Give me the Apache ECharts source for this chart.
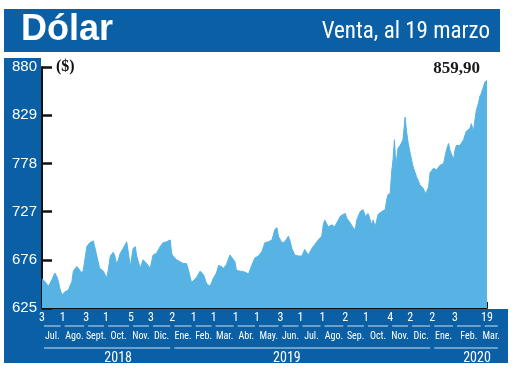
<!DOCTYPE html>
<html><head><meta charset="utf-8">
<script src="https://cdn.jsdelivr.net/npm/echarts@6/dist/echarts.min.js"></script>
<style>html,body{margin:0;padding:0;background:#fff}#c{width:520px;height:390px}</style>
</head><body><div id="c"></div>
<script>
const titulo = 'Dólar';
const subtitulo = 'Venta, al 19 marzo';
const unidad = '($)';
const ultimoTexto = '859,90';
// días transcurridos desde el 3 de julio de 2018
const dias = [0,4,9,14,18,21,23,25,28,32,37,42,44,49,53,56,58,63,67,72,74,77,81,86,91,93,96,100,102,105,110,114,119,121,124,128,131,133,138,142,147,152,156,161,166,170,175,180,182,184,189,194,198,203,205,208,210,212,217,222,224,227,231,236,241,245,248,252,255,259,264,266,271,273,278,285,290,295,299,304,309,313,318,323,327,330,332,337,341,346,348,351,355,360,365,369,374,379,383,388,393,395,397,402,407,411,414,419,423,426,428,433,437,440,442,447,451,454,458,461,463,465,468,472,477,482,484,486,489,491,493,495,497,500,503,505,507,510,512,514,517,521,526,531,535,539,543,545,550,554,559,564,566,568,571,573,578,580,582,587,592,596,601,603,606,608,610,613,615,617,620,622,625];
const valores = [656,653,648,655,662,658,653,646,639,642,644,653,664,669,665,662,665,690,694,696,690,680,667,664,657,665,680,684,681,671,683,688,695,685,669,688,690,680,667,676,672,667,681,683,690,694,695,697,683,680,676,674,672,672,667,658,652,650,657,664,665,660,651,648,657,662,670,669,667,671,681,683,674,665,664,663,661,671,678,680,685,694,695,697,708,710,701,694,695,701,697,688,681,680,680,687,681,688,692,697,701,713,718,711,713,711,715,722,724,725,720,715,710,708,718,727,729,722,725,718,713,718,711,724,727,729,739,745,746,768,782,803,775,794,797,796,803,827,812,801,789,775,764,755,752,746,753,768,773,771,776,778,785,792,799,792,782,792,797,797,803,812,815,820,812,824,834,842,849,852,859,864,866];
const marcasY = [625, 676, 727, 778, 829, 880];
const inicioMes = [0,29,62,90,125,153,183,213,241,272,302,335,363,394,426,455,489,517,548,580,625];
const diaMes = ['3','1','3','1','5','3','2','1','1','1','1','3','1','1','2','1','4','2','2','3','19'];
const celdaIni = [0,29,62,90,125,153,183,213,241,272,302,335,363,394,426,455,489,517,548,580,619];
const celdaFin = [29,62,90,125,153,183,213,241,272,302,335,363,394,426,455,489,517,548,580,619,643];
const meses = ['Jul.','Ago.','Sept.','Oct.','Nov.','Dic.','Ene.','Feb.','Mar.','Abr.','May.','Jun.','Jul.','Ago.','Sep.','Oct.','Nov.','Dic.','Ene.','Feb.','Mar.'];
const anios = ['2018','2019','2020'];
const anioIni = [0,183,548];
const anioFin = [183,548,643];
const anioCentro = [107,344,611];

const AZUL = '#0b5fa5';
const AREA = '#56b3e3';
const NARROW = "'Liberation Sans Narrow','Roboto Condensed','DejaVu Sans Condensed','Liberation Sans',sans-serif";
const fontTxt = (s) => s + 'px ' + NARROW;

const chart = echarts.init(document.getElementById('c'), null, {renderer: 'canvas'});

function txt(text, x, y, size) {
  return {type: 'text', style: {text: text, x: x, y: y, fill: '#fff', font: fontTxt(size),
    align: 'center', verticalAlign: 'middle', textAlign: 'center', textVerticalAlign: 'middle'}};
}

function renderMes(params, api) {
  const i = params.dataIndex;
  const y0 = api.coord([0, 625])[1];
  const xn = api.coord([inicioMes[i], 625])[0];
  const xa = api.coord([celdaIni[i], 625])[0];
  const xb = api.coord([celdaFin[i], 625])[0];
  return {type: 'group', children: [
    txt(diaMes[i], xn, y0 + 10, 12),
    {type: 'line', shape: {x1: xa + 2, y1: y0 + 18, x2: xb - 2, y2: y0 + 18},
      style: {stroke: 'rgba(255,255,255,0.8)', lineWidth: 1}},
    txt(meses[i], (xa + xb) / 2, y0 + 28, 10)
  ]};
}

function renderAnio(params, api) {
  const i = params.dataIndex;
  const y0 = api.coord([0, 625])[1];
  const xa = api.coord([anioIni[i], 625])[0];
  const xb = api.coord([anioFin[i], 625])[0];
  const xc = api.coord([anioCentro[i], 625])[0];
  return {type: 'group', children: [
    {type: 'line', shape: {x1: xa + 2, y1: y0 + 40, x2: xb - 2, y2: y0 + 40},
      style: {stroke: 'rgba(255,255,255,0.8)', lineWidth: 1}},
    txt(anios[i], xc, y0 + 50, 14)
  ]};
}

const option = {
  backgroundColor: '#fff',
  animation: false,
  title: [
    {text: titulo, left: 21, top: 9, padding: 0,
      textStyle: {color: '#fff', fontSize: 36, fontWeight: 'bold', fontFamily: "'Liberation Sans',sans-serif", lineHeight: 43}},
    {text: subtitulo, right: 30, top: 11, padding: 0,
      textStyle: {color: '#fff', fontSize: 23, fontWeight: 'normal', fontFamily: NARROW, lineHeight: 43}}
  ],
  graphic: [
    {type: 'rect', z: -10, shape: {x: 4, y: 9, width: 496, height: 43}, style: {fill: AZUL}},
    {type: 'rect', z: -10, shape: {x: 4, y: 58, width: 37, height: 305}, style: {fill: AZUL}},
    {type: 'rect', z: -10, shape: {x: 4, y: 309, width: 504, height: 54}, style: {fill: AZUL}}
  ],
  grid: {left: 42, right: 33, top: 67, bottom: 82, containLabel: false},
  xAxis: {
    type: 'value', min: 0, max: 625,
    axisLine: {show: true, onZero: false, lineStyle: {color: '#111', width: 2}},
    axisTick: {show: true, inside: true, length: 6, customValues: [625], lineStyle: {color: '#111', width: 2}},
    axisLabel: {show: false},
    splitLine: {show: false}
  },
  yAxis: {
    type: 'value', min: 625, max: 880,
    name: unidad, nameLocation: 'end', nameGap: 0,
    nameTextStyle: {color: '#111', fontSize: 16, fontWeight: 'bold', fontFamily: "'Liberation Serif',serif",
      align: 'left', verticalAlign: 'middle', padding: [0, 0, 0, 14]},
    axisLine: {show: true, onZero: false, lineStyle: {color: '#111', width: 2}},
    axisTick: {show: true, inside: true, length: 10, customValues: marcasY, lineStyle: {color: '#111', width: 2.5}},
    axisLabel: {show: true, customValues: marcasY, color: '#fff', fontSize: 15, margin: 5,
      fontFamily: "'Liberation Sans',sans-serif"},
    splitLine: {show: false}
  },
  series: [
    {
      type: 'line', data: dias.map((d, i) => [d, valores[i]]),
      symbol: 'none', showSymbol: false, silent: true,
      lineStyle: {color: AREA, width: 1},
      areaStyle: {color: AREA, opacity: 1},
      z: 1,
      endLabel: {show: true, formatter: ultimoTexto, color: '#1a1a1a', fontSize: 17, fontWeight: 'bold',
        fontFamily: "'Liberation Serif',serif", align: 'right', verticalAlign: 'middle', distance: 0, offset: [-7, -12]}
    },
    {
      type: 'custom', renderItem: renderMes, clip: false, silent: true,
      data: meses.map((m, i) => [inicioMes[i], 625]), encode: {x: 0, y: 1}, z: 5
    },
    {
      type: 'custom', renderItem: renderAnio, clip: false, silent: true,
      data: anios.map((a, i) => [anioIni[i], 625]), encode: {x: 0, y: 1}, z: 5
    }
  ]
};
chart.setOption(option);
</script></body></html>
